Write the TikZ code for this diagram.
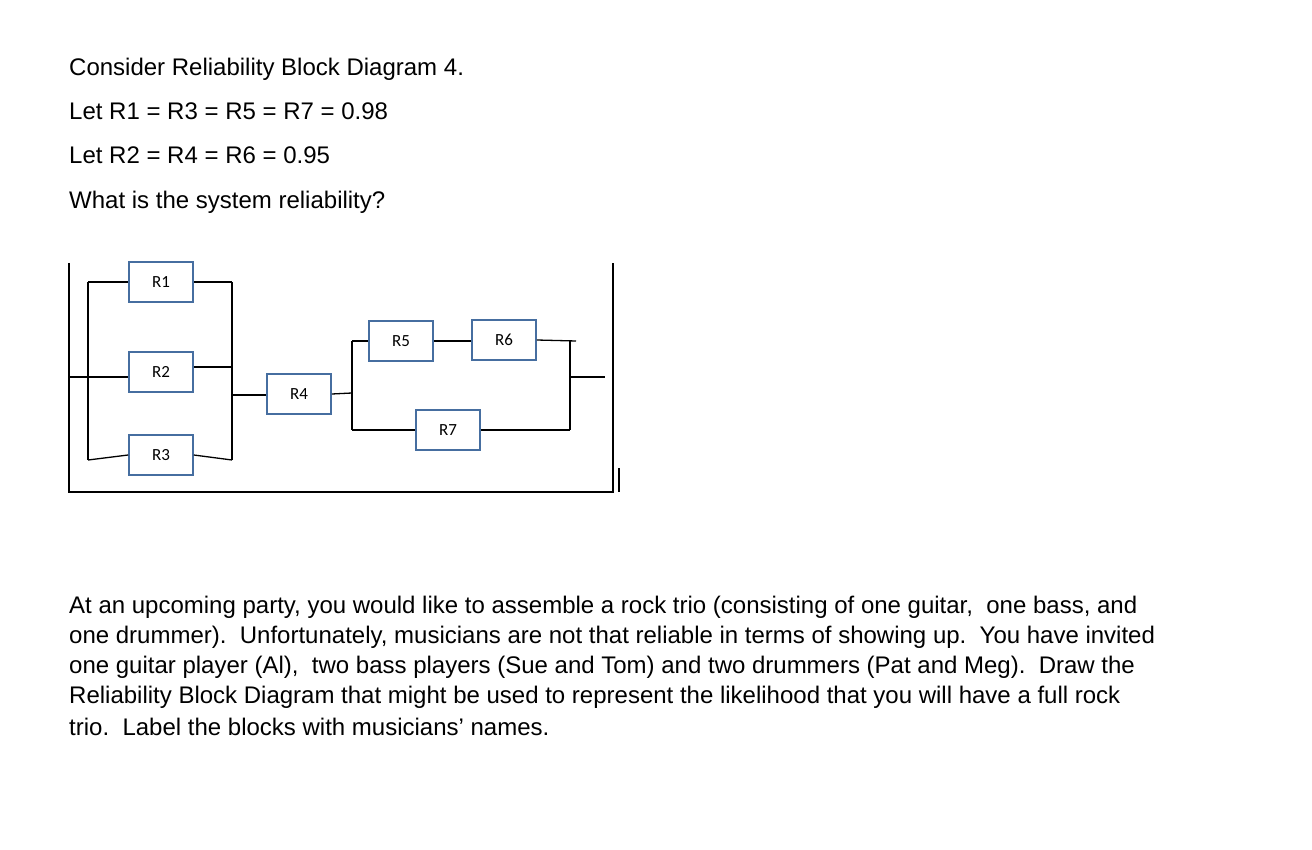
\documentclass[tikz,border=0pt]{standalone}
\usepackage{fontspec}
\setmainfont{Liberation Sans}
\newfontfamily\carlfont{Carlito}
\begin{document}
\begin{tikzpicture}[x=1pt,y=-1pt,
  blk/.style={draw={rgb,255:red,70;green,110;blue,160},line width=1.6pt,fill=white,minimum width=64pt,minimum height=40pt,inner sep=0pt,font=\carlfont\fontsize{17}{17}\selectfont},
  txt/.style={anchor=base west,inner sep=0pt,font=\fontsize{24}{24}\selectfont},
  ln/.style={line width=1.3pt}]
\useasboundingbox (0,0) rectangle (1312,850);
\node[txt] (t1) at (69,76) {Consider Reliability Block Diagram 4.};
\node[txt] (t2) at (69,120) {Let R1 = R3 = R5 = R7 = 0.98};
\node[txt] (t3) at (69,164) {Let R2 = R4 = R6 = 0.95};
\node[txt] (t4) at (69,209) {What is the system reliability?};
\node[txt] (p1) at (69,613) {At an upcoming party, you would like to assemble a rock trio (consisting of one guitar,\ \ one bass, and};
\node[txt] (p2) at (69,643) {one drummer).\ \ Unfortunately, musicians are not that reliable in terms of showing up.\ \ You have invited};
\node[txt] (p3) at (69,673) {one guitar player (Al),\ \ two bass players (Sue and Tom) and two drummers (Pat and Meg).\ \ Draw the};
\node[txt] (p4) at (69,703) {Reliability Block Diagram that might be used to represent the likelihood that you will have a full rock};
\node[txt] (p5) at (69,735) {trio.\ \ Label the blocks with musicians' names.};
% frame
\draw[ln] (69,263) -- (69,492) -- (613,492) -- (613,263);
\draw[ln] (619,468) -- (619,492);
% buses
\coordinate (a1) at (88,282); \coordinate (a3) at (88,460);
\coordinate (b1) at (232,282); \coordinate (b3) at (232,460);
\coordinate (c1) at (352,341); \coordinate (c3) at (352,430);
\coordinate (d1) at (570,341); \coordinate (d3) at (570,430);
\coordinate (in) at (69,377); \coordinate (out) at (605,377);
\draw[ln] (a1) -- (a3); \draw[ln] (b1) -- (b3); \draw[ln] (c1) -- (c3); \draw[ln] (d1) -- (d3);
\node[blk] (r1) at (161,282) {R1};
\node[blk] (r2) at (161,372) {R2};
\node[blk] (r3) at (161,455) {R3};
\node[blk] (r4) at (299,394) {R4};
\node[blk] (r5) at (401,341) {R5};
\node[blk] (r6) at (504,340) {R6};
\node[blk] (r7) at (448,430) {R7};
\draw[ln] (a1) -- (r1.west); \draw[ln] (in) -- (in-|r2.west); \draw[ln] (a3) -- (r3.west);
\draw[ln] (r1.east) -- (b1); \draw[ln] (r2.east|-232,367) -- (232,367); \draw[ln] (r3.east) -- (b3);
\draw[ln] (232,395) -- (r4.west|-232,395);
\draw[ln] (r4.east) -- (352,393);
\draw[ln] (c1) -- (r5.west); \draw[ln] (r5.east) -- (r6.west|-r5.east); \draw[ln] (r6.east) -- (576,341);
\draw[ln] (c3) -- (r7.west); \draw[ln] (r7.east) -- (d3);
\draw[ln] (570,377) -- (out);
\end{tikzpicture}
\end{document}
